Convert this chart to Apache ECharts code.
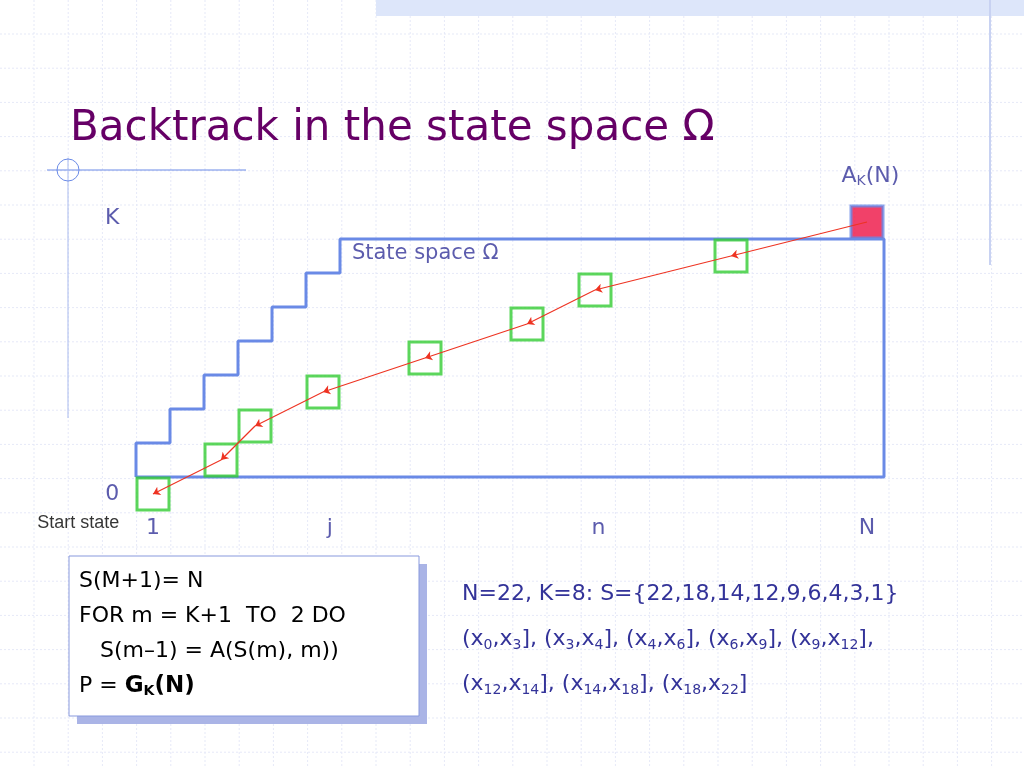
<!DOCTYPE html>
<html><head><meta charset="utf-8">
<script src="https://cdn.jsdelivr.net/npm/echarts@6/dist/echarts.min.js"></script>
<style>html,body{margin:0;padding:0;background:#fff}#c{width:1024px;height:768px}</style>
</head><body><div id="c"></div>
<script>
// path points (x = position 1..N, y = stage 0..K), from start to end
const pathX = [1, 3, 4, 6, 9, 12, 14, 18, 22];
const pathY = [0, 1, 2, 3, 4, 5, 6, 7, 8];
// state-space boundary (staircase + rectangle)
const boundX = [0.5, 0.5, 1.5, 1.5, 2.5, 2.5, 3.5, 3.5, 4.5, 4.5, 5.5, 5.5, 6.5, 6.5, 22.5, 22.5, 0.5];
const boundY = [0.5, 1.5, 1.5, 2.5, 2.5, 3.5, 3.5, 4.5, 4.5, 5.5, 5.5, 6.5, 6.5, 7.5, 7.5, 0.5, 0.5];
// axis-like labels
const tickLabels = ['1', 'j', 'n', 'N'];
const tickPos = [1, 6.2, 14.1, 22];

const FONT = 'DejaVu Sans';
const BLUE = '#6a8ae6';
const chart = echarts.init(document.getElementById('c'));

const bg = [];
for (let x = 34; x < 1024; x += 34.2) bg.push({type:'line', silent:true, z:-10, shape:{x1:x,y1:0,x2:x,y2:768}, style:{stroke:'#e6e9f8', lineWidth:1, lineDash:[2,2]}});
for (let y = 34; y < 768; y += 34.2) bg.push({type:'line', silent:true, z:-10, shape:{x1:0,y1:y,x2:1024,y2:y}, style:{stroke:'#e6e9f8', lineWidth:1, lineDash:[2,2]}});

const segs = [];
for (let i = pathX.length - 1; i > 0; i--) segs.push({coords: [[pathX[i], pathY[i]], [pathX[i-1], pathY[i-1]]]});

const lbl = (x, y, t, extra) => ({value:[x, y], label:Object.assign({show:true, formatter:t, position:'inside', color:'#333399', fontSize:22, fontFamily:FONT}, extra||{})});

chart.setOption({
  animation:false,
  grid:{left:119, top:154, width:884, height:408},
  xAxis:{type:'value', min:0, max:26, show:false},
  yAxis:{type:'value', min:-2, max:10, show:false},
  series:[
    {type:'line', data:boundX.map((x,i)=>[x,boundY[i]]), symbol:'none', lineStyle:{color:BLUE, width:3}, z:2},
    {type:'lines', coordinateSystem:'cartesian2d', data:segs, symbol:['none','arrow'], symbolSize:7,
     lineStyle:{color:'#ee3322', width:1.2, opacity:1}, z:4},
    {type:'scatter', data:pathX.slice(0,-1).map((x,i)=>[x,pathY[i]]), symbol:'rect', symbolSize:32,
     itemStyle:{color:'rgba(0,0,0,0)', borderColor:'#33cc33', borderWidth:3}, z:3},
    {type:'scatter', data:[[pathX[pathX.length-1], pathY[pathY.length-1]]], symbol:'rect', symbolSize:32,
     itemStyle:{color:'#ee1144', borderColor:BLUE, borderWidth:3}, z:3},
    {type:'scatter', symbolSize:0, z:5, clip:false, data:[
      ...tickLabels.map((t,i)=>lbl(tickPos[i], -1, t)),
      lbl(-0.2, 0, '0'),
      lbl(-0.2, 8.1, 'K'),
      lbl(-1.2, -0.85, 'Start state', {fontSize:18, color:'#000', fontFamily:'Liberation Sans'}),
      lbl(22.1, 9.35, '{a|A}{s|K}{a|(N)}', {rich:{a:{fontSize:22,color:'#333399',fontFamily:FONT}, s:{fontSize:14,color:'#333399',fontFamily:FONT,padding:[10,0,0,0]}}}),
      lbl(6.85, 7.06, 'State space Ω', {position:'right', distance:0, fontSize:21})
    ]}
  ],
  graphic:[
    ...bg,
    {type:'rect', silent:true, z:-5, shape:{x:376,y:0,width:648,height:16}, style:{fill:'#dde6fa'}},
    {type:'line', shape:{x1:990,y1:0,x2:990,y2:265}, style:{stroke:'#c8d2f2', lineWidth:2}},
    {type:'line', shape:{x1:47,y1:170,x2:246,y2:170}, style:{stroke:BLUE, lineWidth:1}},
    {type:'line', shape:{x1:68,y1:158,x2:68,y2:418}, style:{stroke:'#aabbee', lineWidth:1}},
    {type:'circle', shape:{cx:68,cy:170,r:11}, style:{stroke:BLUE, fill:'none', lineWidth:1}},
    {type:'text', left:70, top:108, style:{text:'Backtrack in the state space Ω', fill:'#660066', font:'42px "DejaVu Sans"'}},
    {type:'rect', shape:{x:77,y:564,width:350,height:160}, style:{fill:'#aab4e6'}},
    {type:'rect', shape:{x:69,y:556,width:350,height:160}, style:{fill:'#fff', stroke:'#8899dd', lineWidth:1}},
    {type:'text', left:79, top:564, style:{
      text:'S(M+1)= N\nFOR m = K+1  TO  2 DO\n   S(m\u20131) = A(S(m), m))\nP = {b|G}{bs|K}{b|(N)}',
      font:'22px "DejaVu Sans"', fill:'#000', lineHeight:35,
      rich:{b:{font:'bold 23px "DejaVu Sans"', fill:'#000', lineHeight:35}, bs:{font:'bold 14px "DejaVu Sans"', padding:[10,0,0,0]}}}},
    {type:'text', left:462, top:572, style:{
      text:'N=22, K=8: S={22,18,14,12,9,6,4,3,1}\n' +
           '(x{s|0},x{s|3}], (x{s|3},x{s|4}], (x{s|4},x{s|6}], (x{s|6},x{s|9}], (x{s|9},x{s|12}],\n' +
           '(x{s|12},x{s|14}], (x{s|14},x{s|18}], (x{s|18},x{s|22}]',
      font:'22px "DejaVu Sans"', fill:'#333399', lineHeight:45,
      rich:{s:{font:'14px "DejaVu Sans"', fill:'#333399', padding:[12,0,0,0], lineHeight:45}}}}
  ]
});
</script></body></html>
